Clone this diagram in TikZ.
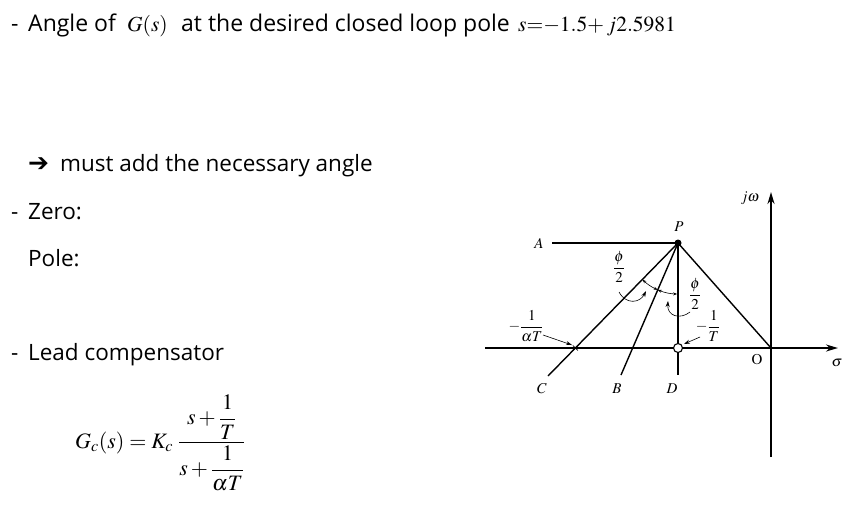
\documentclass[tikz,border=0pt]{standalone}
\usepackage{amsmath}
\usepackage{mathptmx}
\usepackage{fontspec}
\setmainfont{Open Sans}
\newfontfamily\djv{DejaVu Sans}
\newcommand{\dsh}{\makebox[17pt][l]{-}}
\usetikzlibrary{arrows.meta,calc}
\begin{document}
\begin{tikzpicture}[x=1pt,y=-1pt,
 txt/.style={anchor=base west, inner sep=0, font=\fontsize{22.5}{26}\selectfont},
 txtb/.style={anchor=base west, inner sep=0, font=\fontsize{23}{27}\selectfont},
 mth/.style={anchor=base west, inner sep=0, font=\fontsize{21.5}{25}\selectfont},
 lbl/.style={inner sep=0, font=\fontsize{15}{17}\selectfont},
 fr/.style={inner sep=0, font=\fontsize{15}{17}\selectfont},
 ln/.style={line width=1.4pt},
 ax/.style={line width=1.9pt, -{Stealth[length=12pt,width=7pt]}},
 pt/.style={-{Stealth[length=6pt,width=4pt]}, line width=0.6pt},
 dbl/.style={{Stealth[length=4pt,width=3pt]}-{Stealth[length=4pt,width=3pt]}, line width=0.6pt}
 ]
\useasboundingbox[fill=white] (0,0) rectangle (860,515);
% ---- left text ----
\node[txtb] (t1a) at (11,31) {\dsh Angle of};
\node[mth] (t1g) at (127,31) {$G(s)$};
\node[txtb] (t1b) at (181,31) {at the desired closed loop pole};
\node[mth] (t1s) at (518,31) {$s{=}{-}1.5{+}\,j2.5981$};
\node[txt] (ar) at (28,171) {\djv\fontsize{25}{26}\selectfont ➔};
\node[txt] (t2) at (60,171) {must add the necessary angle};
\node[txt] (t3) at (11,219) {\dsh Zero:};
\node[txt] (t4) at (28,266) {Pole:};
\node[txt] (t5) at (11,360) {\dsh Lead compensator};
\node[anchor=west, inner sep=0, font=\fontsize{22}{26}\selectfont] (gc) at (75,443)
 {$\displaystyle G_c(s)=K_c\;\frac{s+\dfrac{1}{T}}{s+\dfrac{1}{\alpha T}}$};
% ---- diagram ----
\coordinate (P) at (678,243);
\coordinate (Aend) at (552,243);
\coordinate (C) at (548,376);
\coordinate (B) at (621,375);
\coordinate (D) at (678,375);
\coordinate (O) at (771,348);
\coordinate (xl) at (485,348);
\coordinate (xr) at (838,348);
\coordinate (yb) at (771,457);
\coordinate (yt) at (771,192);
\coordinate (pl) at (575.4,348);
\draw[ax] (xl) -- (xr);
\draw[ax] (yb) -- (yt);
\draw[ln] (Aend) -- (P);
\draw[ln] (P) -- (O);
\draw[ln] (P) -- (C);
\draw[ln] (P) -- (B);
\draw[ln] (P) -- (D);
\fill (P) circle (3.5pt);
\node[circle, draw, line width=1.1pt, fill=white, inner sep=0, minimum size=9pt] (z) at (678,348) {};
\draw[line width=0.6pt] ($(pl)+(-2.5,-2.5)$) -- ($(pl)+(2.5,2.5)$) ($(pl)+(-2.5,2.5)$) -- ($(pl)+(2.5,-2.5)$);
% angle arcs
\draw[dbl] (P) ++(226:51pt) arc[start angle=226, end angle=246.6, radius=51pt];
\draw[dbl] (P) ++(246.6:51pt) arc[start angle=246.6, end angle=269, radius=51pt];
% labels
\node[lbl] (lA) at (539,243) {$A$};
\node[lbl] (lP) at (679,227) {$P$};
\node[lbl] (lC) at (542,389) {$C$};
\node[lbl] (lB) at (617,389) {$B$};
\node[lbl] (lD) at (672,389) {$D$};
\node[lbl] (lO) at (757,360) {$\mathrm{O}$};
\node[lbl] (ls) at (837,363) {$\sigma$};
\node[lbl] (lj) at (750,198) {$j\omega$};
\node[fr] (f1) at (619,267) {$\dfrac{\phi}{2}$};
\node[fr] (f2) at (695,294) {$\dfrac{\phi}{2}$};
\node[fr] (aT) at (526,326) {$-\dfrac{1}{\alpha T}$};
\node[fr] (iT) at (708,326) {$-\dfrac{1}{T}$};
\coordinate (a1) at (543,335);
\coordinate (a2) at (572,345);
\coordinate (b1) at (700,337);
\coordinate (b2) at (684,344);
\draw[pt] (a1) -- (a2);
\draw[pt] (b1) -- (b2);
\coordinate (c1) at (619,292);
\coordinate (c2) at (646,291);
\draw[pt] (c1) .. controls (626,305) and (640,303) .. (c2);
\coordinate (d1) at (690,312);
\coordinate (d2) at (668,301);
\draw[pt] (d1) .. controls (680,320) and (667,316) .. (d2);
\end{tikzpicture}
\end{document}
